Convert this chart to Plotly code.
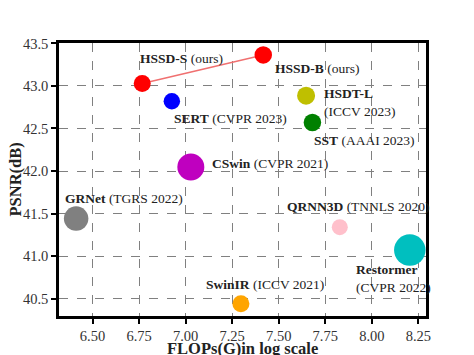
import plotly.graph_objects as go

# ---- data ----
methods = ["HSSD-S", "HSSD-B", "SERT", "CSwin", "HSDT-L", "SST",
           "GRNet", "SwinIR", "QRNN3D", "Restormer"]
venues = ["(ours)", "(ours)", "(CVPR 2023)", "(CVPR 2021)", "(ICCV 2023)",
          "(AAAI 2023)", "(TGRS 2022)", "(ICCV 2021)", "(TNNLS 2020)", "(CVPR 2022)"]
flops_log = [6.767, 7.417, 6.926, 7.028, 7.647, 7.681, 6.412, 7.297, 7.828, 8.204]
psnr = [43.03, 43.365, 42.82, 42.047, 42.886, 42.57, 41.44, 40.44, 41.34, 41.07]

x_ticks = [6.50, 6.75, 7.00, 7.25, 7.50, 7.75, 8.00, 8.25]
y_ticks = [40.5, 41.0, 41.5, 42.0, 42.5, 43.0, 43.5]
x_title = "FLOPs(G)in log scale"
y_title = "PSNR(dB)"

# ---- styles ----
colors = ["#FF0000", "#FF0000", "#0000FF", "#BF00BF", "#BFBF00", "#008000",
          "#808080", "#FFA500", "#FFC0CB", "#00BFBF"]
marker_px = [17, 17.5, 16.5, 27, 18, 17.5, 24.5, 17, 16, 31.5]
# label offsets in pixels relative to each point (dx, dy up), and line break flag
label_dx = [-4.6, 9.7, 0, 19, 16, 0, -13, -37, -55, -55.4]
label_dy = [24.7, -14, -17.6, 3.4, -6.7, -18.3, 20.6, 18.7, 20.7, -28]
two_line = [False, False, False, False, True, False, False, False, False, True]

FONT = "Liberation Serif"

fig = go.Figure()

# connecting line between the two HSSD variants
fig.add_trace(go.Scatter(
    x=flops_log[:2], y=psnr[:2], mode="lines",
    line=dict(color="#F07070", width=1.5), hoverinfo="skip", showlegend=False))

fig.add_trace(go.Scatter(
    x=flops_log, y=psnr, mode="markers",
    marker=dict(color=colors, size=marker_px, line=dict(width=0), opacity=1),
    text=methods, showlegend=False))

for m, v, x, y, dx, dy, tl in zip(methods, venues, flops_log, psnr,
                                  label_dx, label_dy, two_line):
    sep = "<br>" if tl else " "
    fig.add_annotation(
        x=x, y=y, xref="x", yref="y", showarrow=False,
        text=f"<b>{m}</b>{sep}{v}", align="left",
        xanchor="left", yanchor="middle", xshift=dx, yshift=dy,
        font=dict(family=FONT, size=13.5, color="#222222"))

# axis titles
fig.add_annotation(x=0.5, y=0, xref="paper", yref="paper", showarrow=False,
                   text=f"<b>{x_title}</b>", xanchor="center", yanchor="middle",
                   yshift=-32, font=dict(family=FONT, size=16.5, color="#222222"))
fig.add_annotation(x=0, y=0.5, xref="paper", yref="paper", showarrow=False,
                   text=f"<b>{y_title}</b>", textangle=-90,
                   xanchor="center", yanchor="middle",
                   xshift=-44, font=dict(family=FONT, size=16.5, color="#222222"))

axis_common = dict(
    showline=True, linecolor="black", linewidth=2.5, mirror=True,
    ticks="outside", ticklen=5, tickwidth=1.8, tickcolor="black",
    showgrid=True, gridcolor="#808080", griddash="dash", gridwidth=1,
    zeroline=False, tickfont=dict(family=FONT, size=14.5, color="#333333"),
)

fig.update_xaxes(range=[6.32, 8.291], tickvals=x_ticks, tickformat=".2f",
                 **axis_common)
fig.update_yaxes(range=[40.295, 43.505], tickvals=y_ticks, tickformat=".1f",
                 **axis_common)

# page body adds ~8px offset; figure sized to fit the window
fig.update_layout(
    width=466, height=347,
    margin=dict(l=51, r=48, t=35, b=39, autoexpand=False),
    paper_bgcolor="white", plot_bgcolor="white",
    showlegend=False,
)

fig.write_html("out.html")
